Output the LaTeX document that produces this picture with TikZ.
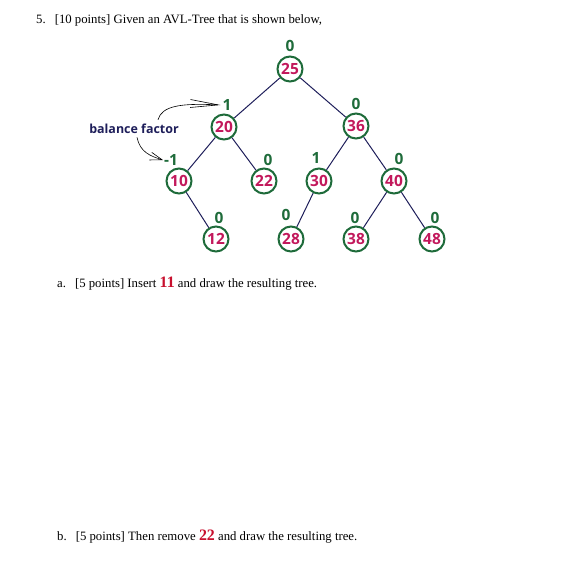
\documentclass[tikz,border=0pt]{standalone}
\usepackage{fontspec}
\setmainfont{Liberation Serif}
\setsansfont{Open Sans}
\usetikzlibrary{arrows.meta}
\definecolor{ringgreen}{HTML}{1E6B3A}
\definecolor{keyred}{HTML}{C2185B}
\definecolor{edgeblue}{HTML}{1E1E5A}
\definecolor{askred}{HTML}{C8102E}

\begin{document}
\begin{tikzpicture}[x=1bp,y=-1bp,
  avl/.style={circle,draw=ringgreen,line width=2bp,minimum size=25bp,inner sep=0pt,
    text=keyred,font=\sffamily\bfseries\fontsize{15.5}{15.5}\selectfont},
  bf/.style={text=ringgreen,inner sep=0pt,font=\sffamily\bfseries\fontsize{15.5}{15.5}\selectfont},
  link/.style={draw=edgeblue,line width=1bp},
  pointer/.style={draw=black,line width=0.6bp},
  task/.style={anchor=west,inner sep=0pt,font=\fontsize{12.8}{14}\selectfont}]
  \useasboundingbox (0,0) rectangle (562,572);
  % question text
  \node[task] (q5) at (36,20) {5.\hspace{9bp}[10 points] Given an AVL-Tree that is shown below,};
  \node[task] (qa) at (57,284) {a.\hspace{9bp}[5 points] Insert {\color{askred}\bfseries\fontsize{16}{16}\selectfont 11} and draw the resulting tree.};
  \node[task] (qb) at (57,537) {b.\hspace{9bp}[5 points] Then remove {\color{askred}\bfseries\fontsize{16}{16}\selectfont 22} and draw the resulting tree.};
  % keys
  \node[avl] (n25) at (290,69) {25};
  \node[avl] (n20) at (224,127) {20};
  \node[avl] (n36) at (356,126) {36};
  \node[avl] (n10) at (179,181) {10};
  \node[avl] (n22) at (264,181) {22};
  \node[avl] (n30) at (319,181) {30};
  \node[avl] (n40) at (394,181) {40};
  \node[avl] (n12) at (216,239) {12};
  \node[avl] (n28) at (291,239) {28};
  \node[avl] (n38) at (356,239) {38};
  \node[avl] (n48) at (432,239) {48};
  % balance factors
  \node[bf] (b25) at (290,46) {0};
  \node[bf] (b20) at (227,105) {1};
  \node[bf] (b36) at (356,104) {0};
  \node[bf] (b10) at (171,160) {-1};
  \node[bf] (b22) at (268,160) {0};
  \node[bf] (b30) at (316,158) {1};
  \node[bf] (b40) at (399,159) {0};
  \node[bf] (b12) at (219,218) {0};
  \node[bf] (b28) at (286,215) {0};
  \node[bf] (b38) at (355,218) {0};
  \node[bf] (b48) at (435,218) {0};
  % edges
  \draw[link] (n25) -- (n20);
  \draw[link] (n25) -- (n36);
  \draw[link] (n20) -- (n10);
  \draw[link] (n20) -- (n22);
  \draw[link] (n36) -- (n30);
  \draw[link] (n36) -- (n40);
  \draw[link] (n10) -- (n12);
  \draw[link] (n30) -- (n28);
  \draw[link] (n40) -- (n38);
  \draw[link] (n40) -- (n48);
  % legend
  \node[text=edgeblue,font=\sffamily\bfseries\fontsize{12.5}{13}\selectfont] (bal) at (134,129) {balance factor};
  \draw[pointer,-{Straight Barb[length=28bp,width=8bp]}] ([xshift=24bp,yshift=1bp]bal.north) .. controls (162,106) and (180,103) .. ([xshift=-2bp]b20.west);
  \draw[pointer,-{Straight Barb[length=12bp,width=8bp]}] ([xshift=3bp]bal.south) .. controls (140,152) and (150,156) .. ([xshift=-1bp]b10.west);
\end{tikzpicture}
\end{document}
